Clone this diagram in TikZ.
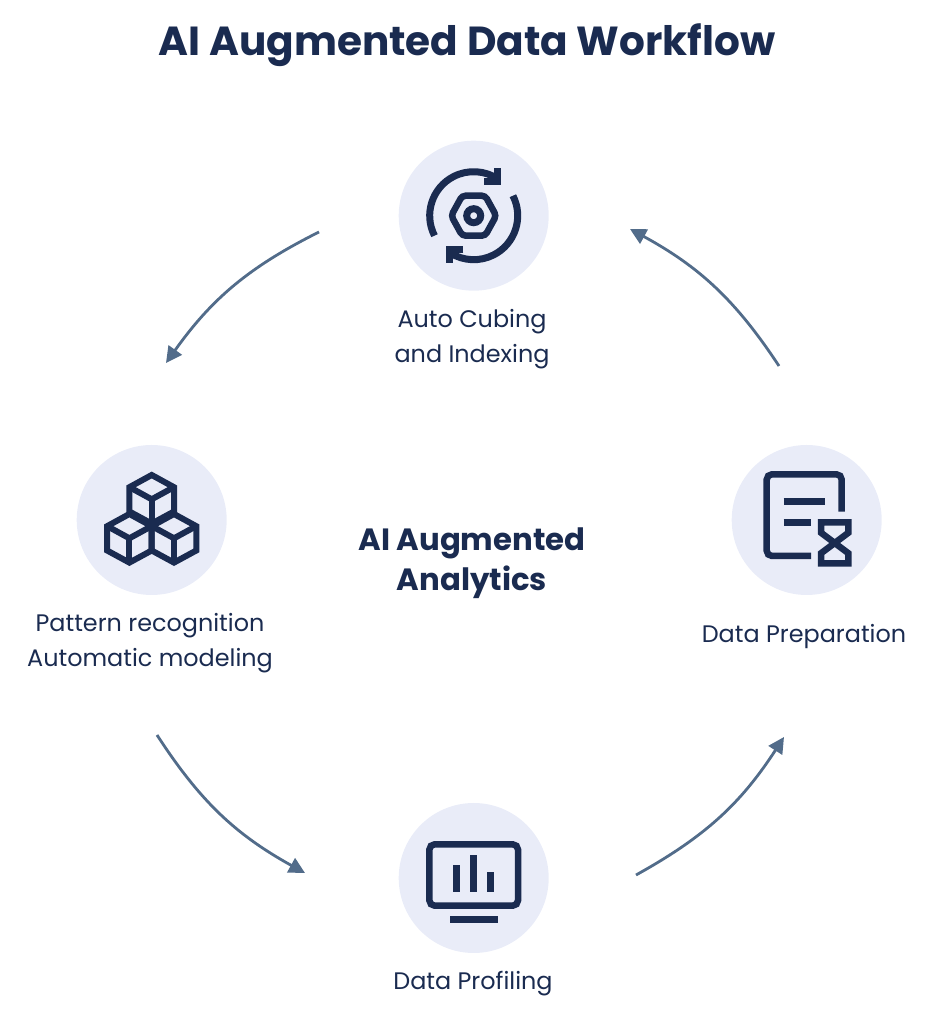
\documentclass[tikz,border=0pt]{standalone}
\usepackage{fontspec}
\usepackage{xcolor}
\usetikzlibrary{arrows.meta}
\setmainfont{Poppins}
\definecolor{navy}{HTML}{1A2B50}
\definecolor{paleblue}{HTML}{E9ECF8}
\definecolor{slateblue}{HTML}{526C8A}
\tikzset{
  stage/.style={circle, fill=paleblue, minimum size=150*0.02cm, inner sep=0pt},
  label/.style={text=navy, align=center, font=\fontsize{13.6}{20}\selectfont},
  icon/.style={draw=navy, line width=6.5*0.02cm},
  flow/.style={draw=slateblue, line width=2.8*0.02cm, -{Stealth[length=16*0.02cm, width=16*0.02cm, inset=0pt]}}
}
\begin{document}
\begin{tikzpicture}[x=0.02cm, y=0.02cm]
\useasboundingbox (0,0) rectangle (934,1024);

% circles
\node[stage] (cubing) at (473.7,808.3) {};
\node[stage] (modeling) at (151.7,504) {};
\node[stage] (preparation) at (806.7,504) {};
\node[stage] (profiling) at (473.7,146) {};

% texts
\node[text=navy, font=\fontsize{23.1}{28}\selectfont\bfseries] (title) at (467,979) {AI Augmented Data Workflow};
\node[text=navy, align=center, font=\fontsize{17.5}{23}\selectfont\bfseries] (center) at (472,461) {AI Augmented\\Analytics};
\node[label] (cubingtext) at (472,684.5) {Auto Cubing\\and Indexing};
\node[label] (modelingtext) at (150,380.5) {Pattern recognition\\Automatic modeling};
\node[label] (preparationtext) at (804,387.5) {Data Preparation};
\node[label] (profilingtext) at (473,40.5) {Data Profiling};

% arrows
\coordinate (A1) at (319,792);
\coordinate (A2) at (166,661);
\coordinate (B1) at (157,289);
\coordinate (B2) at (305,151);
\coordinate (C1) at (636,149);
\coordinate (C2) at (784,287);
\coordinate (D1) at (779,658);
\coordinate (D2) at (630,795);
\draw[flow] (A1) to[bend right=14] (A2);
\draw[flow] (B1) to[bend right=14] (B2);
\draw[flow] (C1) to[bend right=14] (C2);
\draw[flow] (D1) to[bend right=14] (D2);

% gear icon
\begin{scope}[shift={(cubing.center)}]
\draw[icon, line width=7*0.02cm] (207:44) arc (207:56:44);
\draw[icon, line width=7*0.02cm] (27:44) arc (27:-122:44);
\draw[icon, line width=7*0.02cm] (10.3,34) -- (24,34) -- (24,48);
\draw[icon, line width=7*0.02cm] (-10.3,-33.7) -- (-24,-33.7) -- (-24,-47.7);
\draw[icon, rounded corners=2] (-22.5,0) -- (-11.5,20) -- (11.5,20) -- (22.5,0) -- (11.5,-20) -- (-11.5,-20) -- cycle;
\draw[icon, line width=7*0.02cm] (0,0) circle (7);
\end{scope}

% cubes icon
\begin{scope}[shift={(modeling.center)}]
\foreach \cx/\cy in {0/20.7, -22.3/-18.3, 22.3/-18.3} {
  \draw[icon, line width=6*0.02cm] (\cx,\cy+24.3) -- ++(22.3,-12.2) -- ++(0,-24.3) -- ++(-22.3,-12.1) -- ++(-22.3,12.1) -- ++(0,24.3) -- cycle;
  \draw[icon, line width=6*0.02cm] (\cx-22.3,\cy+12.2) -- (\cx,\cy) -- (\cx+22.3,\cy+12.2);
  \draw[icon, line width=6*0.02cm] (\cx,\cy) -- (\cx,\cy-24.3);
}
\end{scope}

% document icon
\begin{scope}[shift={(preparation.center)}]
\draw[icon, rounded corners=3] (35,8.3) -- (35,45.7) -- (-40,45.7) -- (-40,-36) -- (4.3,-36);
\draw[icon] (-23,18.3) -- (18,18.3);
\draw[icon] (-23,-2.3) -- (4.3,-2.3);
\draw[icon] (14.3,-2.3) -- (41.7,-2.3) -- (41.7,-12.7) -- (14.3,-33.3) -- (14.3,-43.3) -- (41.7,-43.3) -- (41.7,-33.3) -- (14.3,-12.7) -- cycle;
\end{scope}

% monitor icon
\begin{scope}[shift={(profiling.center)}]
\draw[icon, rounded corners=3] (-44.3,33.7) rectangle (44.3,-27.7);
\fill[navy] (-20.3,13) rectangle (-13.7,-14);
\fill[navy] (-3.3,23.3) rectangle (3.3,-14);
\fill[navy] (13.7,6.3) rectangle (20.7,-14);
\fill[navy] (-23.7,-38) rectangle (24,-44.7);
\end{scope}
\end{tikzpicture}
\end{document}
